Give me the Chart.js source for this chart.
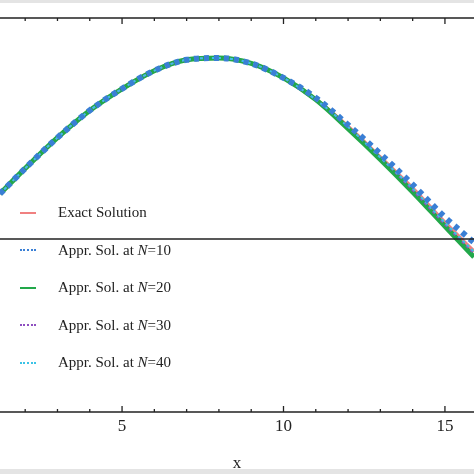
<!DOCTYPE html>
<html>
<head>
<meta charset="utf-8">
<script src="https://cdn.jsdelivr.net/npm/chart.js@4/dist/chart.umd.min.js"></script>
<style>
  body { margin: 0; background: #fff; }
  #wrap { position: relative; width: 474px; height: 474px; }
  #topbar { position: absolute; left: 0; top: 0; width: 474px; height: 3px; background: #e4e4e4; }
  #botbar { position: absolute; left: 0; top: 469px; width: 474px; height: 5px; background: #e4e4e4; }
  #legend { position: absolute; left: 20px; top: 194px; font-family: "Liberation Serif", serif; font-size: 15px; color: #222; }
  .item { height: 37.5px; display: flex; align-items: center; }
  .swatch { width: 16px; height: 0; margin-right: 22px; }
</style>
</head>
<body>
<div id="wrap">
  <canvas id="c" width="474" height="474"></canvas>
  <div id="topbar"></div>
  <div id="botbar"></div>
  <div id="legend"></div>
</div>
<script>
// values
const xs       = [1.22, 2, 3, 4, 5, 6, 7, 8, 9, 10, 11, 12, 13, 14, 15, 15.9];
const exact    = [0.25, 0.39, 0.56, 0.71, 0.83, 0.93, 0.99, 1.00, 0.97, 0.89, 0.77, 0.62, 0.45, 0.28, 0.09, -0.07];
const approx10 = [0.25, 0.39, 0.56, 0.71, 0.83, 0.93, 0.99, 1.00, 0.97, 0.89, 0.78, 0.63, 0.47, 0.30, 0.12, -0.02];
const approx20 = [0.25, 0.39, 0.56, 0.71, 0.83, 0.93, 0.99, 1.00, 0.97, 0.89, 0.77, 0.61, 0.44, 0.26, 0.07, -0.10];
const approx30 = [0.25, 0.39, 0.56, 0.71, 0.83, 0.93, 0.99, 1.00, 0.97, 0.89, 0.77, 0.62, 0.45, 0.27, 0.08, -0.08];
const approx40 = [0.25, 0.39, 0.56, 0.71, 0.83, 0.93, 0.99, 1.00, 0.97, 0.89, 0.77, 0.62, 0.45, 0.28, 0.09, -0.07];
const labels   = ["Exact Solution", "Appr. Sol. at <i>N</i>=10", "Appr. Sol. at <i>N</i>=20", "Appr. Sol. at <i>N</i>=30", "Appr. Sol. at <i>N</i>=40"];
const colors   = ["#f08080", "#3a7fd5", "#22a84a", "#8e4fc0", "#3cc3e6"];
const xTicks   = [5, 10, 15];

function pts(ys) {
    return xs.map((x, i) => ({ x: x, y: ys[i] }));
}

// build the legend as html text
let leg = document.getElementById("legend");
labels.forEach((t, i) => {
    let row = document.createElement("div");
    row.className = "item";
    let style = i == 0 || i == 2 ? "solid" : "dotted";
    row.innerHTML = `<span class="swatch" style="border-top:2px ${style} ${colors[i]}"></span><span>${t}</span>`;
    leg.appendChild(row);
});

// frame, zero line and inward ticks
const framePlugin = {
    id: "frame",
    afterDatasetsDraw(chart) {
        let ctx = chart.ctx, a = chart.chartArea;
        let xs_ = chart.scales.x, ys_ = chart.scales.y;
        ctx.save();
        ctx.strokeStyle = "#222";
        ctx.lineWidth = 1.3;
        let y0 = ys_.getPixelForValue(0);
        ctx.beginPath();
        ctx.moveTo(a.left, y0); ctx.lineTo(a.right, y0);
        ctx.moveTo(a.left, a.top); ctx.lineTo(a.right, a.top);
        ctx.moveTo(a.left, a.bottom); ctx.lineTo(a.right, a.bottom);
        for (let v = 2; v <= 15; v++) {
            let px = xs_.getPixelForValue(v);
            let len = v % 5 == 0 ? 6 : 3;
            ctx.moveTo(px, a.bottom); ctx.lineTo(px, a.bottom - len);
            ctx.moveTo(px, a.top); ctx.lineTo(px, a.top + len);
        }
        ctx.stroke();
        ctx.restore();
    }
};

// first dataset is drawn on top
new Chart(document.getElementById("c"), {
    type: "line",
    data: {
        datasets: [
            { data: pts(approx10), borderColor: colors[1], borderWidth: 6, borderDash: [5, 5] },
            { data: pts(approx40), borderColor: colors[4], borderWidth: 2, borderDash: [3, 3] },
            { data: pts(approx30), borderColor: colors[3], borderWidth: 2, borderDash: [3, 3] },
            { data: pts(approx20), borderColor: colors[2], borderWidth: 5 },
            { data: pts(exact), borderColor: colors[0], borderWidth: 4 }
        ]
    },
    options: {
        animation: false,
        responsive: false,
        elements: { point: { radius: 0 }, line: { tension: 0.4, cubicInterpolationMode: "monotone" } },
        layout: { padding: { top: 18, left: 0, right: 0, bottom: 0 } },
        plugins: { legend: { display: false }, tooltip: { enabled: false } },
        scales: {
            x: {
                type: "linear", min: 1.22, max: 15.9,
                grid: { display: false, drawTicks: false },
                border: { display: false },
                afterBuildTicks: s => { s.ticks = xTicks.map(v => ({ value: v })); },
                afterFit: s => { s.height = 62; },
                ticks: { color: "#222", padding: 4, font: { family: "Liberation Serif", size: 17 } },
                title: { display: true, text: "x", color: "#222", padding: 0, font: { family: "Liberation Serif", size: 17 } }
            },
            y: { display: false, min: -0.956, max: 1.221 }
        }
    },
    plugins: [framePlugin]
});
</script>
</body>
</html>
